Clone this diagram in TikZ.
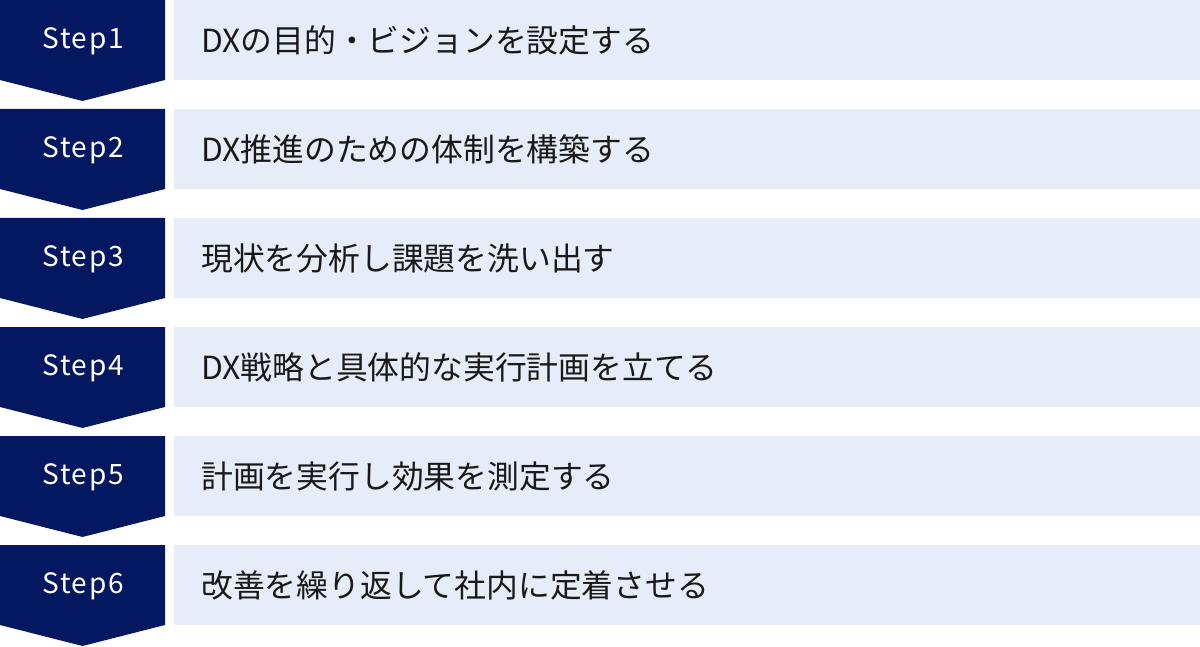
\documentclass[tikz,border=0pt]{standalone}
\usepackage{fontspec}
\setmainfont{Noto Sans CJK JP}
\definecolor{navy}{RGB}{4,24,98}
\definecolor{lightbg}{RGB}{230,236,248}
\definecolor{txt}{RGB}{25,25,25}
\begin{document}
\begin{tikzpicture}[x=1pt,y=-1pt,
  chev/.style={fill=navy,draw=none},
  band/.style={fill=lightbg,draw=none},
  steplabel/.style={text=white,font=\fontsize{28}{32}\selectfont\addfontfeature{LetterSpace=6},anchor=center,inner sep=0pt},
  desc/.style={text=txt,font=\fontsize{31.8}{36}\selectfont,anchor=west,inner sep=0pt}]
\useasboundingbox (0,0) rectangle (1200,647);
\foreach \i/\t in {0/DXの目的・ビジョンを設定する,1/DX推進のための体制を構築する,2/現状を分析し課題を洗い出す,3/DX戦略と具体的な実行計画を立てる,4/計画を実行し効果を測定する,5/改善を繰り返して社内に定着させる}{
  \pgfmathsetmacro{\y}{\i*109}
  \pgfmathtruncatemacro{\n}{\i+1}
  \fill[chev] (0,\y) -- (165,\y) -- (165,\y+80) -- (82.5,\y+101) -- (0,\y+80) -- cycle;
  \fill[band] (174,\y) rectangle (1200,\y+80);
  \node[steplabel] (s\n) at (83,\y+41) {Step\n};
  \node[desc] (d\n) at (201,\y+40) {\t};
}
\end{tikzpicture}
\end{document}
